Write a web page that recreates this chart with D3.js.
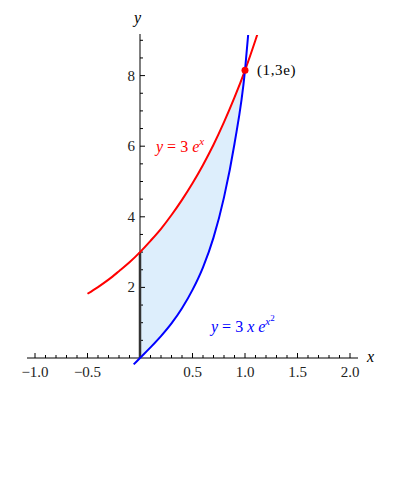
<!DOCTYPE html>
<html>
<head>
<meta charset="utf-8">
<script src="https://cdn.jsdelivr.net/npm/d3@7"></script>
<style>
	body { margin: 0; background: #fff; }
	text { font-family: "Liberation Serif", "DejaVu Serif", serif; }
	.tick-label { font-size: 15px; fill: #222; }
	.axis-name { font-size: 16px; font-style: italic; }
</style>
</head>
<body>
<div class="area-chart"></div>
<script>
const redX = [-0.5, -0.4, -0.3, -0.2, -0.1, 0, 0.1, 0.2, 0.3, 0.4, 0.5, 0.6, 0.7, 0.8, 0.9, 1.0, 1.1, 1.12];
const redY = [1.82, 2.01, 2.22, 2.46, 2.71, 3.0, 3.32, 3.66, 4.05, 4.48, 4.95, 5.47, 6.04, 6.68, 7.38, 8.15, 9.01, 9.19];
const blueX = [-0.06, 0, 0.1, 0.2, 0.3, 0.4, 0.5, 0.6, 0.7, 0.8, 0.9, 1.0, 1.03];
const blueY = [-0.18, 0, 0.30, 0.62, 0.98, 1.41, 1.93, 2.57, 3.41, 4.55, 6.07, 8.15, 9.15];
const xTicks = [-1.0, -0.5, 0.5, 1.0, 1.5, 2.0];
const yTicks = [2, 4, 6, 8];
const point = { x: 1, y: 8.15, label: "(1,3e)" };

const svg = d3.select(".area-chart")
	.append("svg")
	.attr("width", 395)
	.attr("height", 504);

const sx = d3.scaleLinear().domain([-1, 2]).range([35, 350]);
const sy = d3.scaleLinear().domain([0, 8]).range([358, 75.6]);

const red = redX.map((x, i) => ({ x, y: redY[i] }));
const blue = blueX.map((x, i) => ({ x, y: blueY[i] }));

svg.append("defs").append("clipPath").attr("id", "clip")
	.append("rect")
	.attr("x", 0).attr("y", sy(9.15))
	.attr("width", 395).attr("height", 504);

// shaded region between the curves, 0 <= x <= 1
const redIn = red.filter((d) => d.x >= 0 && d.x <= 1);
const blueIn = blue.filter((d) => d.x >= 0 && d.x <= 1);
const region = redIn.concat(blueIn.slice().reverse());
svg.append("path")
	.attr("d", d3.line().x((d) => sx(d.x)).y((d) => sy(d.y)).curve(d3.curveLinearClosed)(region))
	.style("fill", "#ddeefc")
	.style("stroke", "none");

// axes
const xAxis = svg.append("g");
xAxis.append("line")
	.attr("x1", 27).attr("x2", 358)
	.attr("y1", sy(0)).attr("y2", sy(0))
	.style("stroke", "#000");
xAxis.selectAll(".minor")
	.data(d3.range(-10, 21).map((d) => d / 10)).enter()
	.append("line")
	.attr("x1", (d) => sx(d)).attr("x2", (d) => sx(d))
	.attr("y1", sy(0))
	.attr("y2", (d) => sy(0) - (Math.abs(d * 2 - Math.round(d * 2)) < 1e-6 ? 5 : 3))
	.style("stroke", "#000");
xAxis.selectAll(".tick-label")
	.data(xTicks).enter()
	.append("text")
	.attr("class", "tick-label")
	.attr("x", (d) => sx(d))
	.attr("y", sy(0) + 19)
	.attr("text-anchor", "middle")
	.text((d) => d3.format(".1f")(d).replace("-", "\u2212 "));
svg.append("text").attr("class", "axis-name")
	.attr("x", 367).attr("y", 362).text("x");

const yAxis = svg.append("g");
yAxis.append("line")
	.attr("x1", sx(0)).attr("x2", sx(0))
	.attr("y1", 34).attr("y2", sy(0))
	.style("stroke", "#000");
yAxis.selectAll(".minor")
	.data(d3.range(1, 19).map((d) => d / 2)).enter()
	.append("line")
	.attr("x1", sx(0))
	.attr("x2", (d) => sx(0) + (d % 2 === 0 ? 5 : 3))
	.attr("y1", (d) => sy(d)).attr("y2", (d) => sy(d))
	.style("stroke", "#000");
yAxis.selectAll(".tick-label")
	.data(yTicks).enter()
	.append("text")
	.attr("class", "tick-label")
	.attr("x", sx(0) - 5)
	.attr("y", (d) => sy(d) + 5)
	.attr("text-anchor", "end")
	.text((d) => d);
svg.append("text").attr("class", "axis-name")
	.attr("x", 134).attr("y", 23).text("y");

// left edge of the region
svg.append("line")
	.attr("x1", sx(0)).attr("x2", sx(0))
	.attr("y1", sy(0)).attr("y2", sy(3))
	.style("stroke", "#333")
	.style("stroke-width", 2.5);

// curves
const line = d3.line().x((d) => sx(d.x)).y((d) => sy(d.y)).curve(d3.curveMonotoneX);
const curves = svg.append("g").attr("clip-path", "url(#clip)");
curves.append("path").attr("d", line(red))
	.style("fill", "none").style("stroke", "#f00").style("stroke-width", 2);
curves.append("path").attr("d", line(blue))
	.style("fill", "none").style("stroke", "#00f").style("stroke-width", 2);

// intersection point
svg.append("circle")
	.attr("cx", sx(point.x)).attr("cy", sy(point.y)).attr("r", 3.5)
	.style("fill", "#f00");
svg.append("text")
	.attr("x", sx(point.x) + 12).attr("y", sy(point.y) + 5)
	.style("font-size", "15px")
	.style("letter-spacing", "0.6px")
	.text(point.label);

// curve labels
const redLabel = svg.append("text")
	.attr("x", 156).attr("y", 152)
	.style("font-size", "16px").style("fill", "#f00");
redLabel.append("tspan").style("font-style", "italic").text("y");
redLabel.append("tspan").text(" = 3 ");
redLabel.append("tspan").style("font-style", "italic").text("e");
redLabel.append("tspan").attr("dy", -7).style("font-size", "11px").style("font-style", "italic").text("x");

const blueLabel = svg.append("text")
	.attr("x", 211).attr("y", 332)
	.style("font-size", "16px").style("fill", "#00f");
blueLabel.append("tspan").style("font-style", "italic").text("y");
blueLabel.append("tspan").text(" = 3 ");
blueLabel.append("tspan").style("font-style", "italic").text("x e");
blueLabel.append("tspan").attr("dy", -7).style("font-size", "11px").style("font-style", "italic").text("x");
blueLabel.append("tspan").attr("dy", -4).style("font-size", "9px").text("2");
</script>
</body>
</html>
